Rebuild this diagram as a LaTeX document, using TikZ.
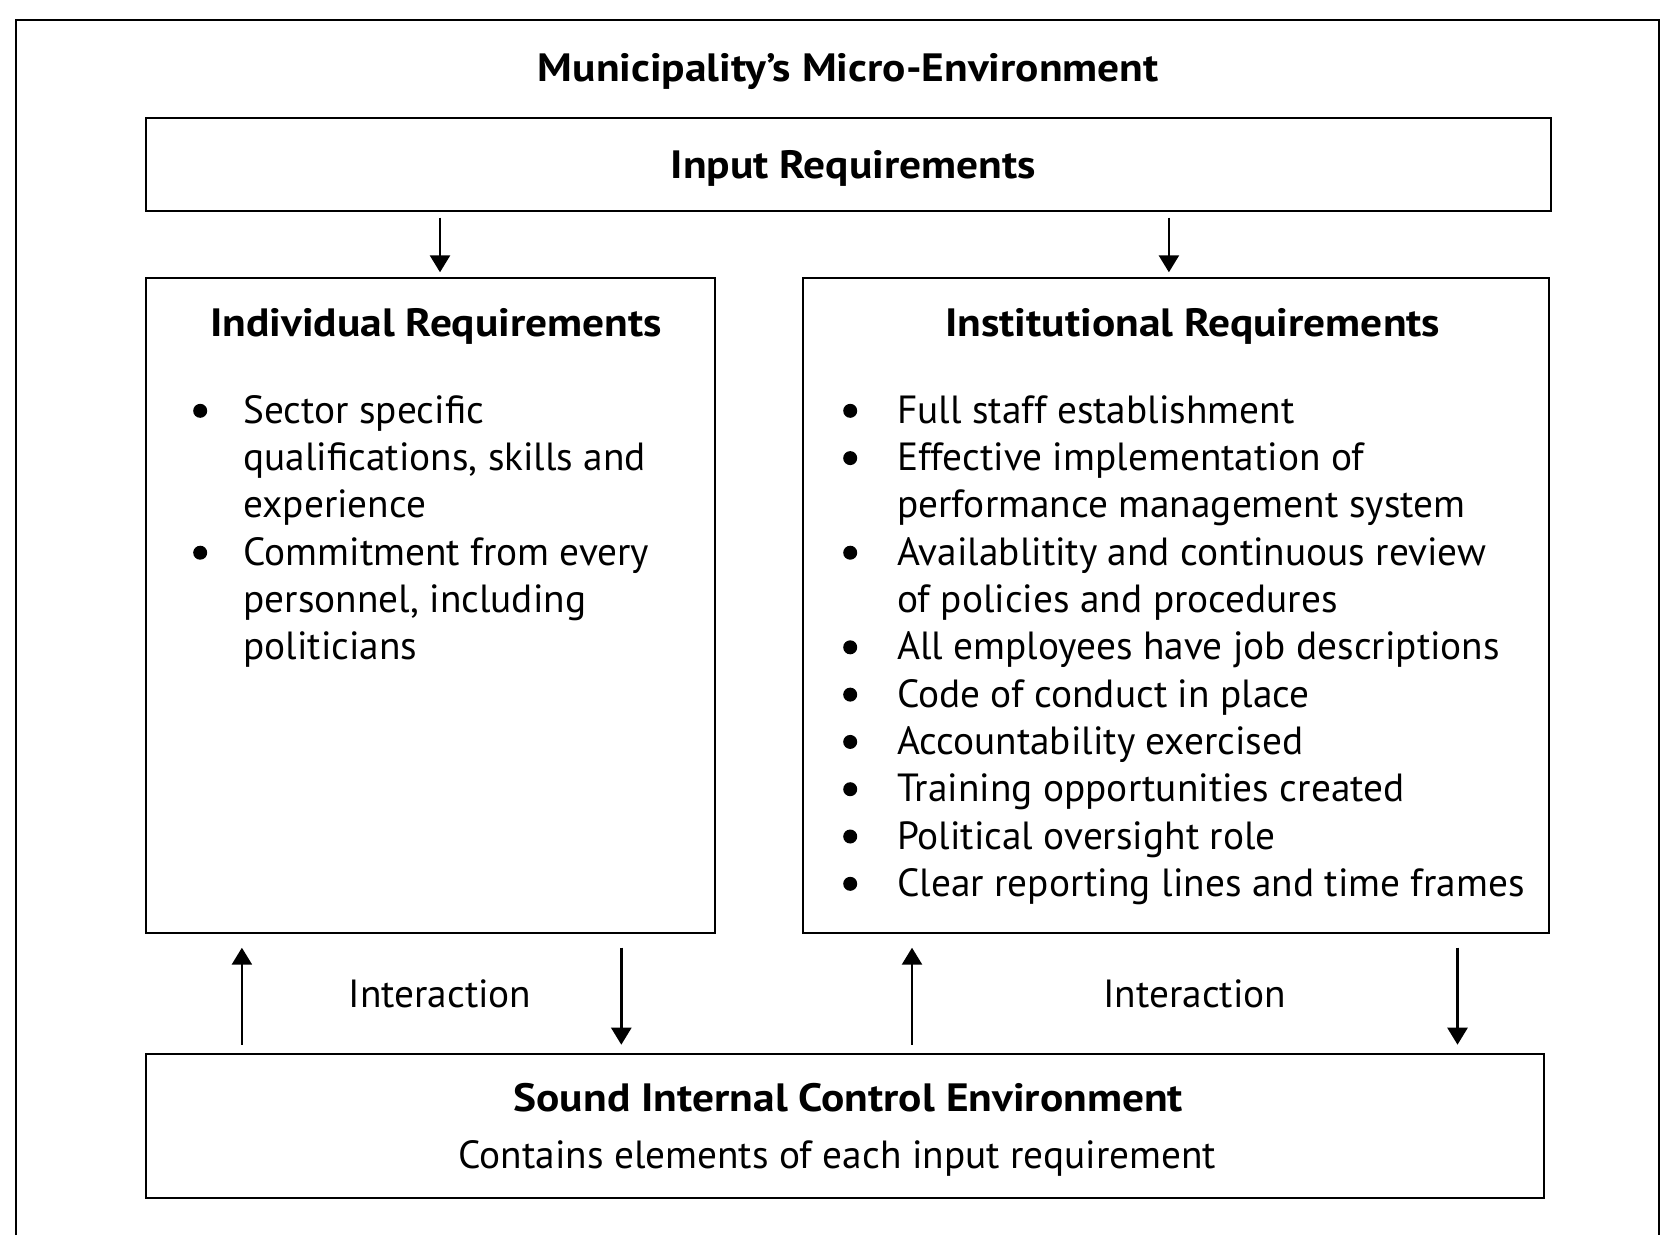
\documentclass[tikz,border=0pt]{standalone}
\usepackage{fontspec}
\setmainfont{PT Sans}[BoldFeatures={FakeStretch=1.10}]
\usetikzlibrary{arrows.meta}
\newcommand\bul[1]{\makebox[#1][l]{\hspace{7pt}\makebox[0pt]{\tikz[baseline=0pt]\fill (0pt,12.5pt) circle (7pt);}}}
\newcommand\nob[1]{\makebox[#1][l]{}}
\begin{document}
\begin{tikzpicture}[x=1pt,y=-1pt,
  box/.style={draw, line width=2pt, inner sep=0pt},
  conn/.style={line width=2.6pt, -{Triangle[length=17pt,width=20pt]}},
  frameline/.style={line width=2.4pt},
  head/.style={font=\fontsize{39.5}{47}\selectfont\bfseries, anchor=base, inner sep=0pt},
  body/.style={font=\fontsize{39.3}{47.3}\selectfont, anchor=base, inner sep=0pt},
  blist/.style={font=\fontsize{39.3}{47.3}\selectfont, anchor=base west, inner sep=0pt},
]
\useasboundingbox (0,0) rectangle (1677,1235);
\fill[white] (0,0) rectangle (1677,1235);
\draw[frameline] (16,1235) -- (16,20) -- (1659,20) -- (1659,1235);

\node[head] (ttl) at (848.3,81) {Municipality’s Micro-Environment};

\node[box, minimum width=1404.3pt, minimum height=92.4pt] (inp) at (848.55,164.5) {};
\node[head] (inpt) at (853.3,178.3) {Input Requirements};

\node[box, minimum width=568.5pt, minimum height=655pt] (ind) at (430.65,605.8) {};
\node[box, minimum width=746.5pt, minimum height=655pt] (inst) at (1175.75,605.8) {};
\node[box, minimum width=1397.6pt, minimum height=143.4pt] (bot) at (845.2,1126) {};

\node[head] (indt) at (436,336.7) {Individual Requirements};
\node[head] (instt) at (1192.8,336.7) {Institutional Requirements};

\node[blist] (indl) at (193,423.3) {\begin{tabular}[t]{@{}l@{}l@{}}
\bul{50.3pt}&Sector specific\\
\nob{50.3pt}&qualifications, skills and\\
\nob{50.3pt}&experience\\
\bul{50.3pt}&Commitment from every\\
\nob{50.3pt}&personnel, including\\
\nob{50.3pt}&politicians
\end{tabular}};

\node[blist] (instl) at (843,423.3) {\begin{tabular}[t]{@{}l@{}l@{}}
\bul{54pt}&Full staff establishment\\
\bul{54pt}&Effective implementation of\\
\nob{54pt}&performance management system\\
\bul{54pt}&Availablitity and continuous review\\
\nob{54pt}&of policies and procedures\\
\bul{54pt}&All employees have job descriptions\\
\bul{54pt}&Code of conduct in place\\
\bul{54pt}&Accountability exercised\\
\bul{54pt}&Training opportunities created\\
\bul{54pt}&Political oversight role\\
\bul{54pt}&Clear reporting lines and time frames
\end{tabular}};

\node[body] (int1) at (440,1007.3) {Interaction};
\node[body] (int2) at (1194.8,1007.3) {Interaction};

\node[head] (bott) at (848.3,1111.7) {Sound Internal Control Environment};
\node[body] (bots) at (837.3,1168.3) {Contains elements of each input requirement};

\draw[conn, shorten <=6pt, shorten >=5pt] ([xshift=9.35pt]ind.north |- inp.south) -- ([xshift=9.35pt]ind.north);
\draw[conn, shorten <=6pt, shorten >=5pt] ([xshift=-6.85pt]inst.north |- inp.south) -- ([xshift=-6.85pt]inst.north);

\draw[conn, shorten <=8.6pt, shorten >=13.4pt] ([xshift=96.5pt]ind.south west |- bot.north) -- ([xshift=96.5pt]ind.south west);
\draw[conn, shorten <=13.4pt, shorten >=8.6pt] ([xshift=475.9pt]ind.south west) -- ([xshift=475.9pt]ind.south west |- bot.north);
\draw[conn, shorten <=8.6pt, shorten >=13.4pt] ([xshift=110.5pt]inst.south west |- bot.north) -- ([xshift=110.5pt]inst.south west);
\draw[conn, shorten <=13.4pt, shorten >=8.6pt] ([xshift=656pt]inst.south west) -- ([xshift=656pt]inst.south west |- bot.north);
\end{tikzpicture}
\end{document}
